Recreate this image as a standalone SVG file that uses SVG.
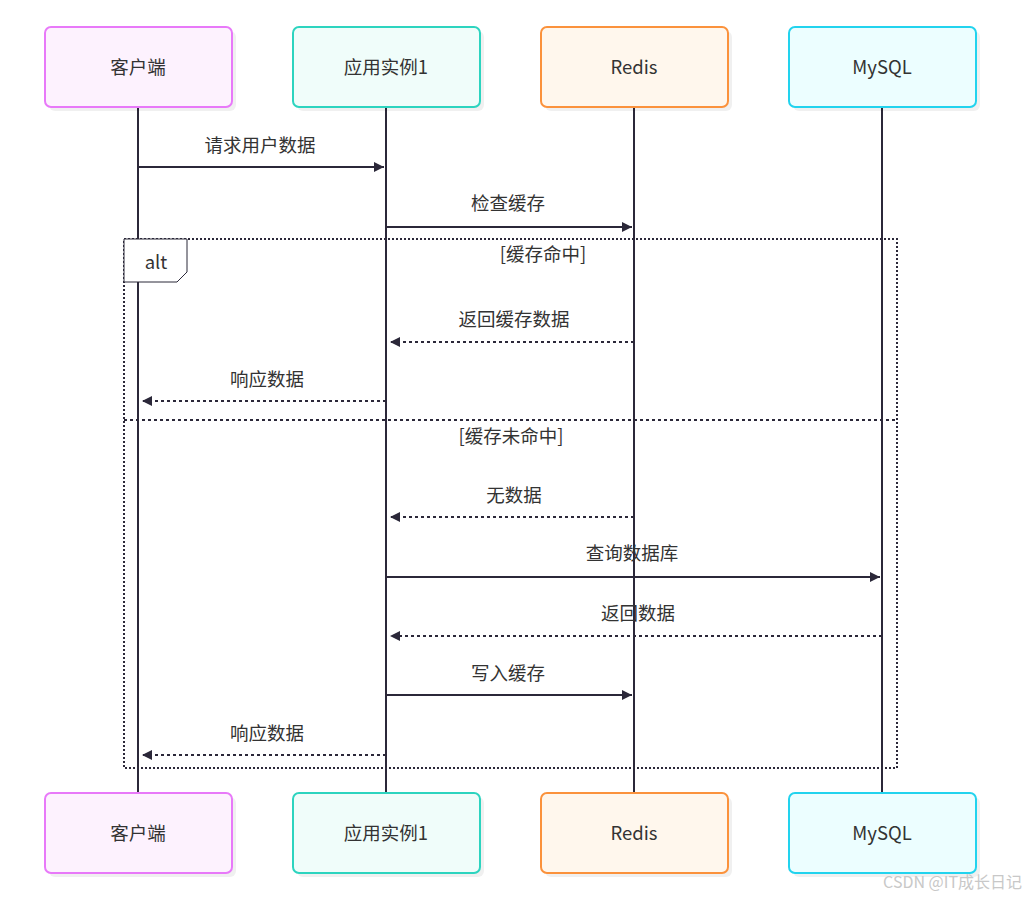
<svg xmlns="http://www.w3.org/2000/svg" width="1026" height="900" viewBox="0 0 1026 900">
<style>
text{font-family:"Noto Sans CJK SC","Noto Sans",sans-serif;font-size:18.5px;fill:#333;text-anchor:middle}
.actor rect.b{stroke-width:2}
.sh{fill:#000;opacity:0.06}
.life{stroke:#2b2839;stroke-width:2}
.m{stroke:#2b2839;stroke-width:2;fill:none}
.d{stroke-dasharray:3,3}
.frame{fill:none;stroke:#2b2839;stroke-width:2;stroke-dasharray:2,2}
</style>
<defs>
<marker id="ah" markerWidth="12" markerHeight="12" refX="10" refY="5" orient="auto" markerUnits="userSpaceOnUse"><path d="M0,0L10,5L0,10z" fill="#2b2839"/></marker>
</defs>
<g id="lifelines">
<line class="life" x1="138" y1="107" x2="138" y2="792"/>
<line class="life" x1="386" y1="107" x2="386" y2="792"/>
<line class="life" x1="634" y1="107" x2="634" y2="792"/>
<line class="life" x1="882" y1="107" x2="882" y2="792"/>
</g>
<g id="a1" class="actor"><rect class="sh" x="49" y="31" width="187" height="80" rx="6"/><rect class="b" x="45" y="27" width="187" height="80" rx="6" fill="#fdf2fe" stroke="#e879f9"/><text x="138" y="74">客户端</text></g>
<g id="a2" class="actor"><rect class="sh" x="297" y="31" width="187" height="80" rx="6"/><rect class="b" x="293" y="27" width="187" height="80" rx="6" fill="#f0fdfa" stroke="#2dd4bf"/><text x="386" y="74">应用实例1</text></g>
<g id="a3" class="actor"><rect class="sh" x="545" y="31" width="187" height="80" rx="6"/><rect class="b" x="541" y="27" width="187" height="80" rx="6" fill="#fff7ed" stroke="#fb923c"/><text x="634" y="74">Redis</text></g>
<g id="a4" class="actor"><rect class="sh" x="793" y="31" width="187" height="80" rx="6"/><rect class="b" x="789" y="27" width="187" height="80" rx="6" fill="#ecfeff" stroke="#22d3ee"/><text x="882" y="74">MySQL</text></g>
<g id="b1" class="actor"><rect class="sh" x="49" y="797" width="187" height="80" rx="6"/><rect class="b" x="45" y="793" width="187" height="80" rx="6" fill="#fdf2fe" stroke="#e879f9"/><text x="138" y="840">客户端</text></g>
<g id="b2" class="actor"><rect class="sh" x="297" y="797" width="187" height="80" rx="6"/><rect class="b" x="293" y="793" width="187" height="80" rx="6" fill="#f0fdfa" stroke="#2dd4bf"/><text x="386" y="840">应用实例1</text></g>
<g id="b3" class="actor"><rect class="sh" x="545" y="797" width="187" height="80" rx="6"/><rect class="b" x="541" y="793" width="187" height="80" rx="6" fill="#fff7ed" stroke="#fb923c"/><text x="634" y="840">Redis</text></g>
<g id="b4" class="actor"><rect class="sh" x="793" y="797" width="187" height="80" rx="6"/><rect class="b" x="789" y="793" width="187" height="80" rx="6" fill="#ecfeff" stroke="#22d3ee"/><text x="882" y="840">MySQL</text></g>
<g id="alt">
<rect class="frame" x="124" y="239" width="773" height="529"/>
<line class="frame" x1="124" y1="420" x2="897" y2="420" style="stroke-dasharray:3,3"/>
<path d="M124,239H187V272L177,282H124z" fill="#fff" stroke="#2b2839" stroke-width="1"/>
<text x="156" y="269">alt</text>
<text x="543" y="261">[缓存命中]</text>
<text x="511" y="443">[缓存未命中]</text>
</g>
<g id="connectors">
<line class="m" x1="138" y1="167" x2="384" y2="167" marker-end="url(#ah)"/>
<line class="m" x1="386" y1="227" x2="632" y2="227" marker-end="url(#ah)"/>
<line class="m d" x1="634" y1="342" x2="390" y2="342" marker-end="url(#ah)"/>
<line class="m d" x1="386" y1="401" x2="142" y2="401" marker-end="url(#ah)"/>
<line class="m d" x1="634" y1="517" x2="390" y2="517" marker-end="url(#ah)"/>
<line class="m" x1="386" y1="577" x2="880" y2="577" marker-end="url(#ah)"/>
<line class="m d" x1="882" y1="636" x2="390" y2="636" marker-end="url(#ah)"/>
<line class="m" x1="386" y1="695" x2="632" y2="695" marker-end="url(#ah)"/>
<line class="m d" x1="386" y1="755" x2="142" y2="755" marker-end="url(#ah)"/>
</g>
<g id="labels">
<text x="260" y="152">请求用户数据</text>
<text x="508" y="210">检查缓存</text>
<text x="514" y="326">返回缓存数据</text>
<text x="267" y="386">响应数据</text>
<text x="514" y="502">无数据</text>
<text x="632" y="560">查询数据库</text>
<text x="638" y="620">返回数据</text>
<text x="508" y="680">写入缓存</text>
<text x="267" y="740">响应数据</text>
</g>
<text x="1022" y="888" style="font-size:16px;fill:#c8c8c8;text-anchor:end">CSDN @IT成长日记</text>
</svg>
